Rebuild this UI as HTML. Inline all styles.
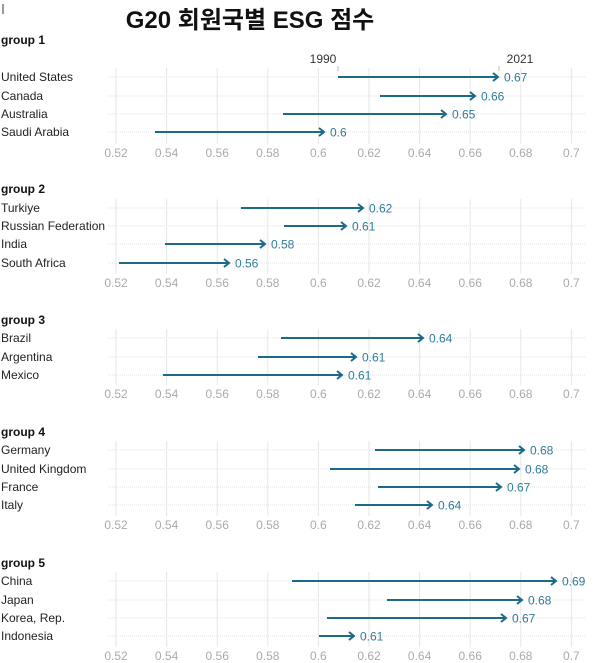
<!DOCTYPE html>
<html><head><meta charset="utf-8"><style>
body{margin:0;background:#fff}
svg{display:block}
text{font-family:"Liberation Sans","Noto Sans CJK KR",sans-serif}
</style></head><body>
<svg width="600" height="663" xmlns="http://www.w3.org/2000/svg">
<defs><marker id="a" markerWidth="8" markerHeight="10" refX="6" refY="5" orient="auto" markerUnits="userSpaceOnUse"><path d="M1,1 L6,5 L1,9" fill="none" stroke="#1b6a87" stroke-width="2"/></marker></defs>
<text x="250" y="28" font-size="24" font-weight="bold" text-anchor="middle" fill="#111" font-family="'Noto Sans CJK KR',sans-serif">G20 회원국별  ESG 점수</text>
<line x1="3" y1="4" x2="3" y2="14" stroke="#333"/>
<g id="all"></g>
<text x="323" y="63" font-size="12" text-anchor="middle" fill="#333">1990</text>
<text x="520" y="63" font-size="12" text-anchor="middle" fill="#333">2021</text>
<line x1="338" y1="66" x2="338" y2="71" stroke="#bbb"/>
<line x1="499" y1="66" x2="499" y2="71" stroke="#bbb"/>
</svg>
<script>
const g=document.getElementById('all');const NS='http://www.w3.org/2000/svg';
function el(t,a,txt){const e=document.createElementNS(NS,t);for(const k in a)e.setAttribute(k,a[k]);if(txt!==undefined)e.textContent=txt;g.appendChild(e);return e;}
const groups=[
{t:'group 1',ty:44,ax:157,rows:[['United States',77,338,498,'0.67'],['Canada',96,380,475,'0.66'],['Australia',114,283,446,'0.65'],['Saudi Arabia',132,155,324,'0.6']]},
{t:'group 2',ty:193,ax:287,rows:[['Turkiye',208,241,363,'0.62'],['Russian Federation',226,284,346,'0.61'],['India',244,165,265,'0.58'],['South Africa',263,119,229,'0.56']]},
{t:'group 3',ty:324,ax:398,rows:[['Brazil',338,281,423,'0.64'],['Argentina',357,258,356,'0.61'],['Mexico',375,163,342,'0.61']]},
{t:'group 4',ty:436,ax:529,rows:[['Germany',450,375,524,'0.68'],['United Kingdom',469,330,519,'0.68'],['France',487,378,501,'0.67'],['Italy',505,355,432,'0.64']]},
{t:'group 5',ty:567,ax:660,rows:[['China',581,292,556,'0.69'],['Japan',600,387,522,'0.68'],['Korea, Rep.',618,327,506,'0.67'],['Indonesia',636,319,354,'0.61']]}];
const ticks=['0.52','0.54','0.56','0.58','0.6','0.62','0.64','0.66','0.68','0.7'];
for(const G of groups){
 el('text',{x:1,y:G.ty,'font-size':12,'font-weight':'bold',fill:'#111'},G.t);
 const top=G.rows[0][1]-9, bot=G.ax-13;
 ticks.forEach((t,i)=>{const x=116+i*50.6;el('line',{x1:x,y1:top,x2:x,y2:bot,stroke:'#e6e6e6'});
  el('text',{x:x,y:G.ax,'font-size':12,'text-anchor':'middle',fill:'#aaa'},t);});
 for(const r of G.rows){
  el('line',{x1:108,y1:r[1],x2:585,y2:r[1],stroke:'#e2e2e2','stroke-dasharray':'1,1'});
  el('text',{x:1,y:r[1]+4,'font-size':12,fill:'#222'},r[0]);
  el('line',{x1:r[2],y1:r[1],x2:r[3],y2:r[1],stroke:'#1b6a87','stroke-width':2,'marker-end':'url(#a)'});
  el('text',{x:r[3]+6,y:r[1]+4.5,'font-size':12,fill:'#2e7d9a'},r[4]);
 }
}
</script>
</body></html>
